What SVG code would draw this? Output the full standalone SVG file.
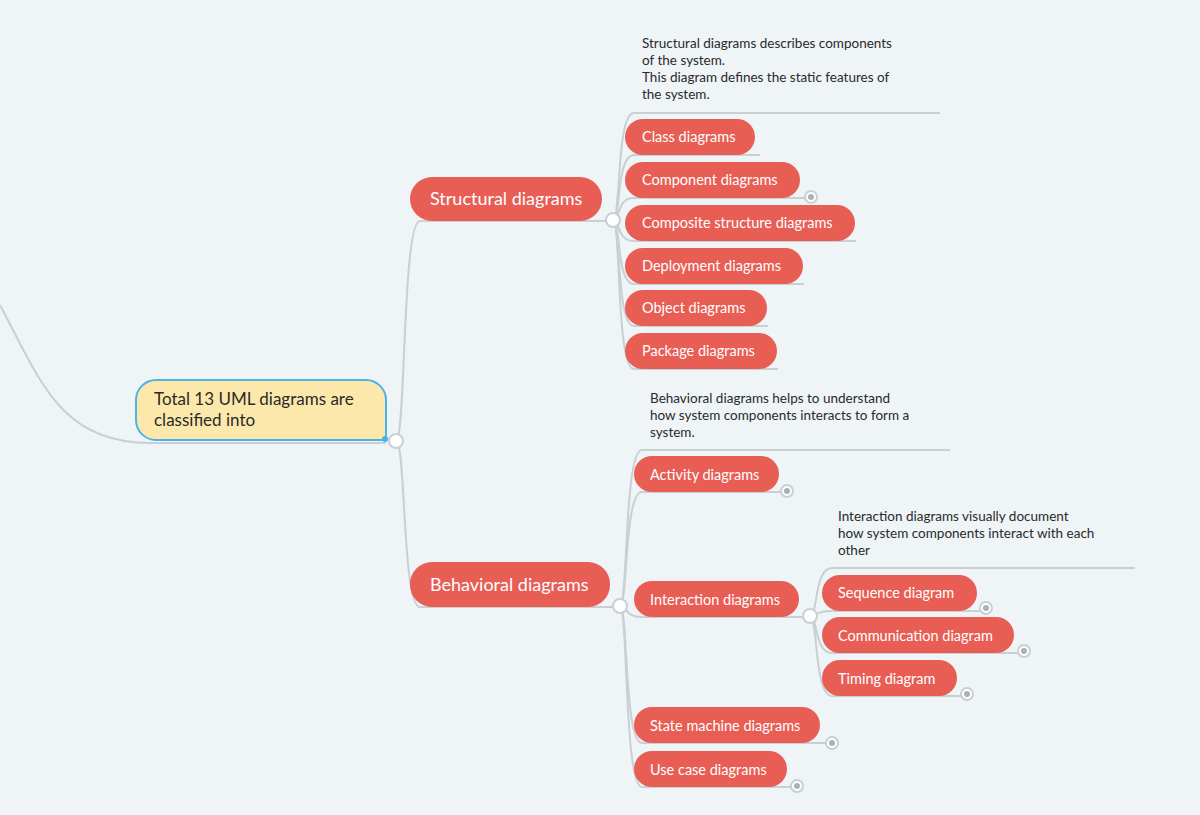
<svg xmlns="http://www.w3.org/2000/svg" width="1200" height="815" viewBox="0 0 1200 815">
<style>
.ln{fill:none;stroke:#c9cfd3;stroke-width:2}
.pill{fill:#e85e55}
.pt{font-family:Lato,"Open Sans",sans-serif;font-size:14.5px;fill:#fff}
.big{font-size:18px}
.desc{font-family:Lato,"Open Sans",sans-serif;font-size:13.5px;fill:#2a2a2a}
.hub{fill:#fff;stroke:#c9cfd3;stroke-width:2}
.dot{fill:#a9b1b8}
</style>
<rect width="1200" height="815" fill="#eff4f7"/>
<g id="connectors">
<path class="ln" d="M0,305 C40,380 60,443 150,443 L386,443"/>
<path class="ln" d="M396,441 C406,441 402,221 420,221 L608,221"/>
<path class="ln" d="M396,441 C406,441 402,607 420,607 L614,607"/>
<path class="ln" d="M613,220 C621,220 616,113 634,113 L940,113"/>
<path class="ln" d="M613,220 C621,220 616,155 634,155 L760,155"/>
<path class="ln" d="M613,220 C621,220 616,198 634,198 L805,198"/>
<path class="ln" d="M613,220 C621,220 616,241 634,241 L856,241"/>
<path class="ln" d="M613,220 C621,220 616,284 634,284 L804,284"/>
<path class="ln" d="M613,220 C621,220 616,326 634,326 L768,326"/>
<path class="ln" d="M613,220 C621,220 616,369 634,369 L778,369"/>
<path class="ln" d="M620,606 C628,606 624,450 642,450 L950,450"/>
<path class="ln" d="M620,606 C628,606 624,492 642,492 L781,492"/>
<path class="ln" d="M620,606 C628,606 624,617 642,617 L804,617"/>
<path class="ln" d="M620,606 C628,606 624,743 642,743 L826,743"/>
<path class="ln" d="M620,606 C628,606 624,787 642,787 L791,787"/>
<path class="ln" d="M810,616 C818,616 814,568 832,568 L1135,568"/>
<path class="ln" d="M810,616 C818,616 814,611 832,611 L980,611"/>
<path class="ln" d="M810,616 C818,616 814,653 832,653 L1018,653"/>
<path class="ln" d="M810,616 C818,616 814,696 832,696 L961,696"/>
</g>
<g id="root">
<path d="M156,380 H366 A20,20 0 0 1 386,400 V440 H156 A20,20 0 0 1 136,420 V400 A20,20 0 0 1 156,380 Z" fill="#fde8ab" stroke="#4ab3e8" stroke-width="2"/>
<text x="154" y="405" font-family="Lato,'Open Sans',sans-serif" font-size="17" fill="#2a2a2a">Total 13 UML diagrams are</text>
<text x="154" y="426" font-family="Lato,'Open Sans',sans-serif" font-size="17" fill="#2a2a2a">classified into</text>
<circle cx="385" cy="439" r="3" fill="#4ab3e8"/>
<circle class="hub" cx="396" cy="441" r="7"/>
</g>
<g id="structural">
<rect class="pill" x="410" y="177" width="192" height="44" rx="22"/>
<text class="pt big" x="430" y="205">Structural diagrams</text>
<circle class="hub" cx="613" cy="220" r="7"/>
</g>
<g id="structural-desc">
<text class="desc" x="642" y="48">Structural diagrams describes  components</text>
<text class="desc" x="642" y="65">of the system.</text>
<text class="desc" x="642" y="82">This diagram defines the static features of</text>
<text class="desc" x="642" y="99">the system.</text>
</g>
<g id="class"><rect class="pill" x="625" y="119" width="130" height="36" rx="18"/><text class="pt" x="642" y="142">Class diagrams</text></g>
<g id="component"><rect class="pill" x="625" y="162" width="175" height="36" rx="18"/><text class="pt" x="642" y="185">Component diagrams</text><circle class="hub" cx="811" cy="197" r="6"/><circle class="dot" cx="811" cy="197" r="3"/></g>
<g id="composite"><rect class="pill" x="625" y="205" width="230" height="36" rx="18"/><text class="pt" x="642" y="228">Composite structure diagrams</text></g>
<g id="deployment"><rect class="pill" x="625" y="248" width="178" height="36" rx="18"/><text class="pt" x="642" y="271">Deployment diagrams</text></g>
<g id="object"><rect class="pill" x="625" y="290" width="142" height="36" rx="18"/><text class="pt" x="642" y="313">Object diagrams</text></g>
<g id="package"><rect class="pill" x="625" y="333" width="152" height="36" rx="18"/><text class="pt" x="642" y="356">Package diagrams</text></g>
<g id="behavioral">
<rect class="pill" x="410" y="562" width="200" height="45" rx="22"/>
<text class="pt big" x="430" y="591">Behavioral diagrams</text>
<circle class="hub" cx="620" cy="606" r="7"/>
</g>
<g id="behavioral-desc">
<text class="desc" x="650" y="403">Behavioral diagrams helps to understand</text>
<text class="desc" x="650" y="420">how system components interacts to form a</text>
<text class="desc" x="650" y="437">system.</text>
</g>
<g id="activity"><rect class="pill" x="634" y="456" width="145" height="36" rx="18"/><text class="pt" x="650" y="480">Activity diagrams</text><circle class="hub" cx="787" cy="491" r="6"/><circle class="dot" cx="787" cy="491" r="3"/></g>
<g id="interaction"><rect class="pill" x="634" y="581" width="165" height="36" rx="18"/><text class="pt" x="650" y="605">Interaction diagrams</text><circle class="hub" cx="810" cy="616" r="7"/></g>
<g id="interaction-desc">
<text class="desc" x="838" y="521">Interaction diagrams visually document</text>
<text class="desc" x="838" y="538">how system components interact with each</text>
<text class="desc" x="838" y="555">other</text>
</g>
<g id="sequence"><rect class="pill" x="822" y="575" width="155" height="36" rx="18"/><text class="pt" x="838" y="598">Sequence diagram</text><circle class="hub" cx="986" cy="608" r="6"/><circle class="dot" cx="986" cy="608" r="3"/></g>
<g id="communication"><rect class="pill" x="822" y="617" width="192" height="36" rx="18"/><text class="pt" x="838" y="641">Communication diagram</text><circle class="hub" cx="1024" cy="651" r="6"/><circle class="dot" cx="1024" cy="651" r="3"/></g>
<g id="timing"><rect class="pill" x="822" y="660" width="135" height="36" rx="18"/><text class="pt" x="838" y="684">Timing diagram</text><circle class="hub" cx="967" cy="694" r="6"/><circle class="dot" cx="967" cy="694" r="3"/></g>
<g id="statemachine"><rect class="pill" x="634" y="707" width="186" height="36" rx="18"/><text class="pt" x="650" y="731">State machine diagrams</text><circle class="hub" cx="832" cy="743" r="6"/><circle class="dot" cx="832" cy="743" r="3"/></g>
<g id="usecase"><rect class="pill" x="634" y="751" width="153" height="36" rx="18"/><text class="pt" x="650" y="775">Use case diagrams</text><circle class="hub" cx="797" cy="786" r="6"/><circle class="dot" cx="797" cy="786" r="3"/></g>
</svg>
